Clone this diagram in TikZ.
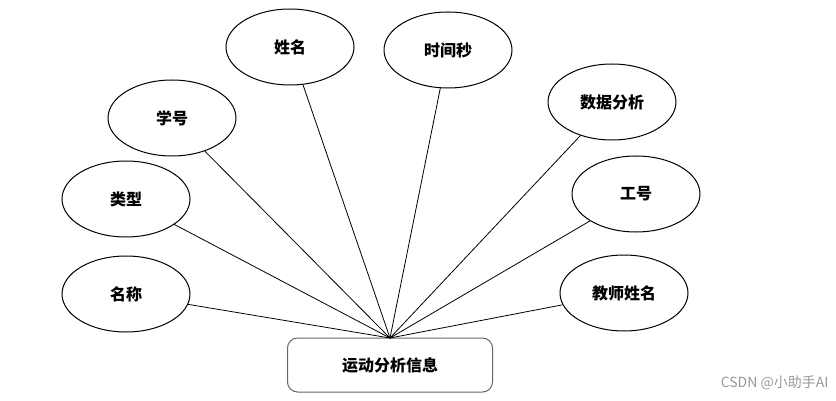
\documentclass[tikz,border=0pt]{standalone}
\usepackage{fontspec}
\newfontfamily\cjk{Noto Sans CJK SC}
\usetikzlibrary{shapes.geometric}
\begin{document}
\begin{tikzpicture}[x=1pt,y=-1pt,
  attr/.style={draw,line width=1pt,ellipse,minimum width=128pt,minimum height=76pt,inner sep=0pt,font=\cjk\bfseries\fontsize{16}{16}\selectfont},
  ent/.style={draw=gray!80!black,line width=1pt,rounded corners=10pt,minimum width=205pt,minimum height=54pt,font=\cjk\bfseries\fontsize{16}{16}\selectfont},
  conn/.style={line width=0.8pt}]
\path[use as bounding box,fill=white] (0,0) rectangle (836,401);
\node[ent] (m) at (390,365) {运动分析信息};
\coordinate (c) at (390,338);
\node[attr] (a1) at (290,47) {姓名};
\node[attr] (a2) at (448,50) {时间秒};
\node[attr] (a3) at (172,118) {学号};
\node[attr] (a4) at (612,102) {数据分析};
\node[attr] (a5) at (126,199) {类型};
\node[attr] (a6) at (636,194) {工号};
\node[attr] (a7) at (126,294) {名称};
\node[attr] (a8) at (624,293) {教师姓名};
\foreach \n in {a1,a2,a3,a4,a5,a6,a7,a8} \draw[conn] (c) -- (\n);
\node[text=gray!80,font=\cjk\fontsize{14}{14}\selectfont,anchor=east] (w) at (832,383) {CSDN @小助手AI};
\end{tikzpicture}
\end{document}
